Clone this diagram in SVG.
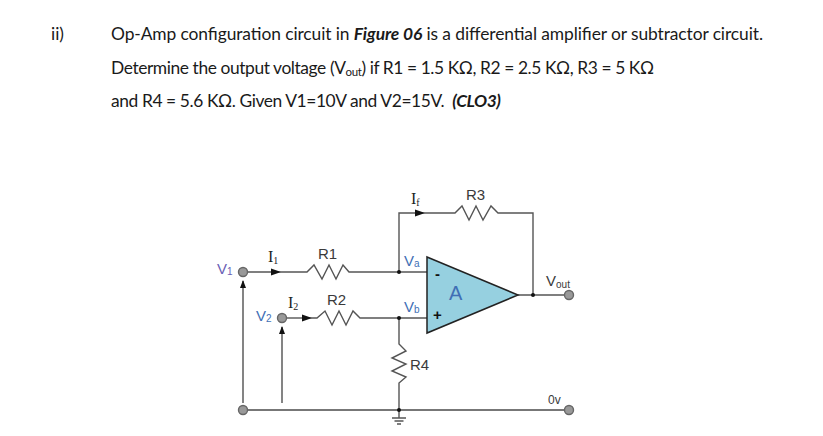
<svg xmlns="http://www.w3.org/2000/svg" width="823" height="436" viewBox="0 0 823 436">
<style>
.t{font-family:Lato,"Liberation Sans",sans-serif;font-size:17.4px;fill:#1a1a1a}
.bi{font-weight:700;font-style:italic}
.l{font-family:"Liberation Sans",sans-serif;font-size:15px;fill:#3a3a3a}
.b{font-family:"Liberation Sans",sans-serif;font-size:15px;fill:#3f6fb5}
.s{font-size:10px}
.i{font-family:"Liberation Serif",serif;font-size:16px;fill:#222}
.w{fill:none;stroke:#555;stroke-width:1.4}
.g{fill:none;stroke:#777;stroke-width:1.8}
.term{fill:#999;stroke:#666;stroke-width:1.4}
.dot{fill:#111}
</style>
<defs>
<marker id="ah" markerWidth="10" markerHeight="8" refX="9" refY="4" orient="auto" markerUnits="userSpaceOnUse"><path d="M0 0.500L10 4L0 7.500Z" fill="#111"/></marker>
<marker id="au" markerWidth="8" markerHeight="8" refX="7" refY="3" orient="auto" markerUnits="userSpaceOnUse"><path d="M0 0L8 3L0 6Z" fill="#111"/></marker>
</defs>
<rect width="823" height="436" fill="#fff"/>
<g id="question">
<text class="t" x="51" y="40">ii)</text>
<text class="t" x="111" y="40" textLength="652" lengthAdjust="spacing">Op-Amp configuration circuit in <tspan class="bi">Figure 06</tspan> is a differential amplifier or subtractor circuit.</text>
<text class="t" x="111" y="74" textLength="543" lengthAdjust="spacing">Determine the output voltage (V<tspan font-size="11.500" dy="2">out</tspan><tspan dy="-2">) if R1 = 1.5 KΩ, R2 = 2.5 KΩ, R3 = 5 KΩ</tspan></text>
<text class="t" x="111" y="107" textLength="390" lengthAdjust="spacing" xml:space="preserve">and R4 = 5.6 KΩ. Given V1=10V and V2=15V.  <tspan class="bi">(CLO3)</tspan></text>
</g>
<g id="connectors">
<path class="g" d="M243 403V281" marker-end="url(#au)"/>
<path class="g" d="M282 403V327" marker-end="url(#au)"/>
<path class="g" d="M243 410H569"/>
<path class="w" d="M243 272H280" marker-end="url(#ah)"/>
<path class="w" d="M279 272H307L314 265L322 279L329 265L336 279L343 265L349 272H427"/>
<path class="w" d="M282 318H311" marker-end="url(#ah)"/>
<path class="w" d="M310 318H317L325 311L332 325L339 311L346 325L353 311L360 318H427"/>
<path class="w" d="M399 318V344L406 351L392 358L406 364L392 371L406 377L399 383V410V418"/>
<path class="w" d="M399 272V213H424" marker-end="url(#ah)"/>
<path class="w" d="M423 213H455L462 206L469 220L476 206L483 220L491 206L498 213H533V295"/>
<path class="w" d="M518 295H569"/>
<path class="w" d="M392 418H406M394.500 421H403.500M397 424H401"/>
</g>
<g id="r1"><text class="l" x="318" y="259">R1</text></g>
<g id="r2"><text class="l" x="327" y="305">R2</text></g>
<g id="r3"><text class="l" x="466" y="200">R3</text></g>
<g id="r4"><text class="l" x="410" y="370">R4</text></g>
<g id="v1"><circle class="term" cx="243" cy="272" r="4.500"/><text class="b" x="217" y="274" style="fill:#6a5fb5">V<tspan class="s" dy="1">1</tspan></text></g>
<g id="v2"><circle class="term" cx="282" cy="318" r="4.500"/><text class="b" x="256" y="321">V<tspan class="s" dy="1">2</tspan></text></g>
<g id="gnd-left"><circle class="term" cx="243" cy="410" r="4.500"/></g>
<g id="i1"><text class="i" x="268" y="262">I<tspan class="s" dy="2">1</tspan></text></g>
<g id="i2"><text class="i" x="288" y="308">I<tspan class="s" dy="2">2</tspan></text></g>
<g id="if"><text class="i" x="411" y="204">I<tspan class="s" dy="2">f</tspan></text></g>
<g id="opamp">
<path d="M427 257L518 295L427 333Z" fill="#96d0e0" stroke="#222" stroke-width="1.500"/>
<text x="435" y="279" font-family="Liberation Sans,sans-serif" font-size="15" font-weight="700" fill="#111">-</text>
<text x="433" y="320" font-family="Liberation Sans,sans-serif" font-size="15" font-weight="700" fill="#111">+</text>
<text x="449" y="300" font-family="Liberation Sans,sans-serif" font-size="20" fill="#3f6fb5">A</text>
</g>
<g id="va"><circle class="dot" cx="399" cy="272" r="2"/><text class="b" x="404" y="266">V<tspan class="s" dy="1">a</tspan></text></g>
<g id="vb"><circle class="dot" cx="399" cy="318" r="2"/><text class="b" x="404" y="312">V<tspan class="s" dy="1">b</tspan></text></g>
<g id="junction-gnd"><circle class="dot" cx="399" cy="410" r="2"/></g>
<g id="vout"><circle class="dot" cx="533" cy="295" r="2"/><circle class="term" cx="569" cy="295" r="4.500"/><text class="l" x="546" y="286">V<tspan class="s" dy="2">out</tspan></text></g>
<g id="ov"><circle class="term" cx="569" cy="410" r="4.500"/><text class="l" x="548" y="404" style="font-size:12px">0v</text></g>
</svg>
